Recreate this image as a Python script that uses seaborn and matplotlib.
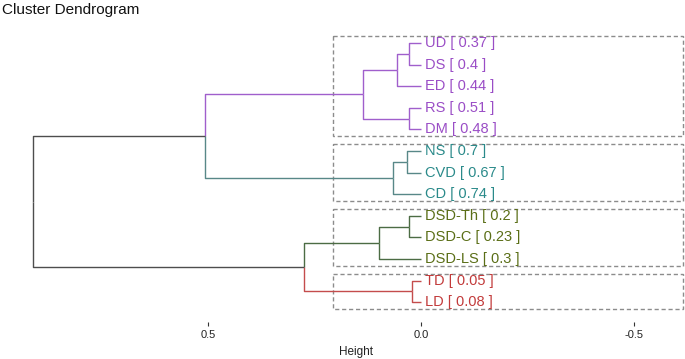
import matplotlib
matplotlib.use("Agg")
import matplotlib.pyplot as plt
from matplotlib.patches import Rectangle
import seaborn as sns

# leaves, top to bottom
leaf_names = ["UD", "DS", "ED", "RS", "DM", "NS", "CVD", "CD",
              "DSD-Th", "DSD-C", "DSD-LS", "TD", "LD"]
leaf_scores = [0.37, 0.4, 0.44, 0.51, 0.48, 0.7, 0.67, 0.74,
               0.2, 0.23, 0.3, 0.05, 0.08]
leaf_cluster = [0, 0, 0, 0, 0, 1, 1, 1, 2, 2, 2, 3, 3]

# merges (hclust style): node ids continue after the leaves (13, 14, ...)
merge_left = [0, 13, 3, 14, 5, 17, 16, 8, 20, 11, 21, 19]
merge_right = [1, 2, 4, 15, 6, 7, 18, 9, 10, 12, 22, 23]
merge_height = [0.028, 0.057, 0.028, 0.137, 0.032, 0.066, 0.507,
                0.028, 0.099, 0.022, 0.275, 0.910]

text_colors = ["#9A4DC6", "#2A8A8A", "#5A6E16", "#C23A3A"]
line_colors = ["#A05FCC", "#588888", "#4C6C44", "#C44C4C"]
root_color = "#4D4D4D"

sns.set_style("white")
plt.rcParams["font.family"] = ["Liberation Sans", "DejaVu Sans"]
plt.rcParams["axes.unicode_minus"] = False

# node positions
n = len(leaf_names)
node_y = list(range(n))
node_h = [0.0] * n
node_c = list(leaf_cluster)
parent = {}
for l, r, h in zip(merge_left, merge_right, merge_height):
    idx = len(node_y)
    node_y.append((node_y[l] + node_y[r]) / 2)
    node_h.append(h)
    node_c.append(node_c[l] if node_c[l] == node_c[r] else None)
    parent[l] = idx
    parent[r] = idx

fig = plt.figure(figsize=(6.85, 3.59), dpi=100)
ax = fig.add_axes([30 / 685, 1 - 322 / 359, 653 / 685, 292 / 359])

for i, p in parent.items():
    col = root_color if node_c[i] is None else line_colors[node_c[i]]
    ax.plot([node_h[i], node_h[p], node_h[p]],
            [node_y[i], node_y[i], node_y[p]],
            color=col, lw=1.0, solid_capstyle="butt")

for i, (name, sc) in enumerate(zip(leaf_names, leaf_scores)):
    ax.annotate(f"{name} [ {sc:g} ]", xy=(0, i), xytext=(3, 0),
                textcoords="offset points", ha="left", va="center",
                fontsize=10.5, color=text_colors[leaf_cluster[i]])

# dashed boxes around the clusters
for c in sorted(set(leaf_cluster)):
    members = [i for i, k in enumerate(leaf_cluster) if k == c]
    y0 = min(members) - 0.5 + 0.18
    y1 = max(members) + 0.5 - 0.18
    ax.add_patch(Rectangle((0.207, y0), -0.822, y1 - y0, fill=False,
                           ec="#8C8C8C", lw=1.0, ls=(0, (3, 2)),
                           clip_on=False))

ax.set_xlim(0.918, -0.615)
ax.set_ylim(12.92, -0.60)
ax.set_yticks([])
ax.set_xticks([0.5, 0.0, -0.5])
ax.set_xticklabels(["0.5", "0.0", "-0.5"])
ax.tick_params(axis="x", bottom=True, length=3, width=0.8, pad=3,
               labelsize=8, color="#333333", labelcolor="#222222")
ax.set_xlabel("Height", fontsize=8.5, labelpad=4, color="#222222")
sns.despine(ax=ax, left=True, bottom=True)

fig.text(0.003, 1 - 10 / 359, "Cluster Dendrogram", fontsize=11,
         ha="left", va="center", color="#111111")

fig.savefig("out.png", dpi=100)
